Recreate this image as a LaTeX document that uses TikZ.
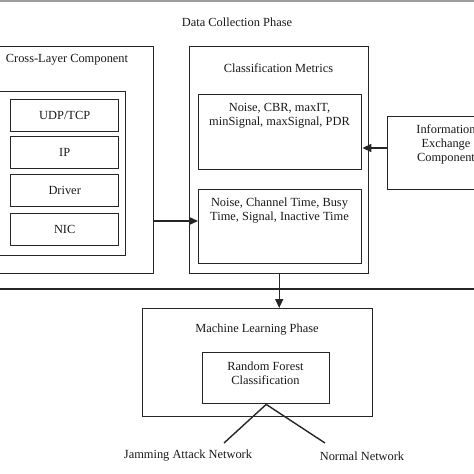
\documentclass[tikz,border=0pt]{standalone}
\usepackage{fontspec}
\setmainfont{Liberation Serif}
\usetikzlibrary{arrows.meta}
\begin{document}
\begin{tikzpicture}[x=1pt,y=-1pt,
  box/.style={draw=black!85, line width=1.4pt, inner sep=0pt, anchor=north west},
  txt/.style={font=\fontsize{12.4}{14}\selectfont, align=center, inner sep=0pt, text=black!90},
  arr/.style={-{Triangle[length=9pt,width=8pt]}, line width=1.4pt, draw=black!85},
  ln/.style={line width=1.4pt, draw=black!85}]
\useasboundingbox (0,0) rectangle (474,474);
\fill[black!38] (0,0) rectangle (474,2);
% data collection phase boundary
\coordinate (dl) at (-5,289);
\coordinate (dr) at (480,289);
\draw[ln] (dl) -- (dr);
\node[txt] (dcp) at (237,22) {Data Collection Phase};
% cross-layer component
\node[box, minimum width=163pt, minimum height=227pt] (cl) at (-10,46) {};
\node[txt] (clt) at (67,60) {Cross-Layer Component};
\node[box, minimum width=135pt, minimum height=164pt] (stack) at (-10,91) {};
\node[box, minimum width=108pt, minimum height=32pt] (udp) at (10,99) {};
\node[txt] at (udp.center) {UDP/TCP};
\node[box, minimum width=108pt, minimum height=32pt] (ip) at (10,136) {};
\node[txt] at (ip.center) {IP};
\node[box, minimum width=108pt, minimum height=32pt] (drv) at (10,174) {};
\node[txt] at (drv.center) {Driver};
\node[box, minimum width=108pt, minimum height=32pt] (nic) at (10,213) {};
\node[txt] at (nic.center) {NIC};
% classification metrics
\node[box, minimum width=179pt, minimum height=227pt] (cm) at (189,46) {};
\node[txt] (cmt) at (278.5,68) {Classification Metrics};
\node[box, minimum width=163pt, minimum height=75pt] (m1) at (198,94) {};
\node[txt] (m1t) at (279.5,116) {Noise, CBR, maxIT,\\minSignal, maxSignal, PDR};
\node[box, minimum width=163pt, minimum height=74pt] (m2) at (198,189) {};
\node[txt] (m2t) at (279.5,211) {Noise, Channel Time, Busy\\Time, Signal, Inactive Time};
% information exchange component
\node[box, minimum width=119pt, minimum height=73pt] (info) at (387,116) {};
\node[txt] (infot) at (446,144) {Information\\Exchange\\Component};
% machine learning phase
\node[box, minimum width=230pt, minimum height=108pt] (ml) at (142,308) {};
\node[txt] (mlt) at (257,330) {Machine Learning Phase};
\node[box, minimum width=127pt, minimum height=51pt] (rf) at (202,352) {};
\node[txt] (rft) at (265.5,373) {Random Forest\\Classification};
\node[txt] (jam) at (188,456) {Jamming Attack Network};
\node[txt] (norm) at (362,456) {Normal Network};
\coordinate (jend) at (224,443);
\coordinate (nend) at (325,443);
% connectors
\coordinate (a1) at (0,221);
\coordinate (a2) at (0,148);
\draw[arr] (cl.east |- a1) -- (m2.west |- a1);
\draw[arr] (info.west |- a2) -- (m1.east |- a2);
\draw[arr] (cm.south) -- (cm.south |- ml.north);
\draw[ln] (rf.south) -- (jend);
\draw[ln] (rf.south) -- (nend);
\end{tikzpicture}
\end{document}
